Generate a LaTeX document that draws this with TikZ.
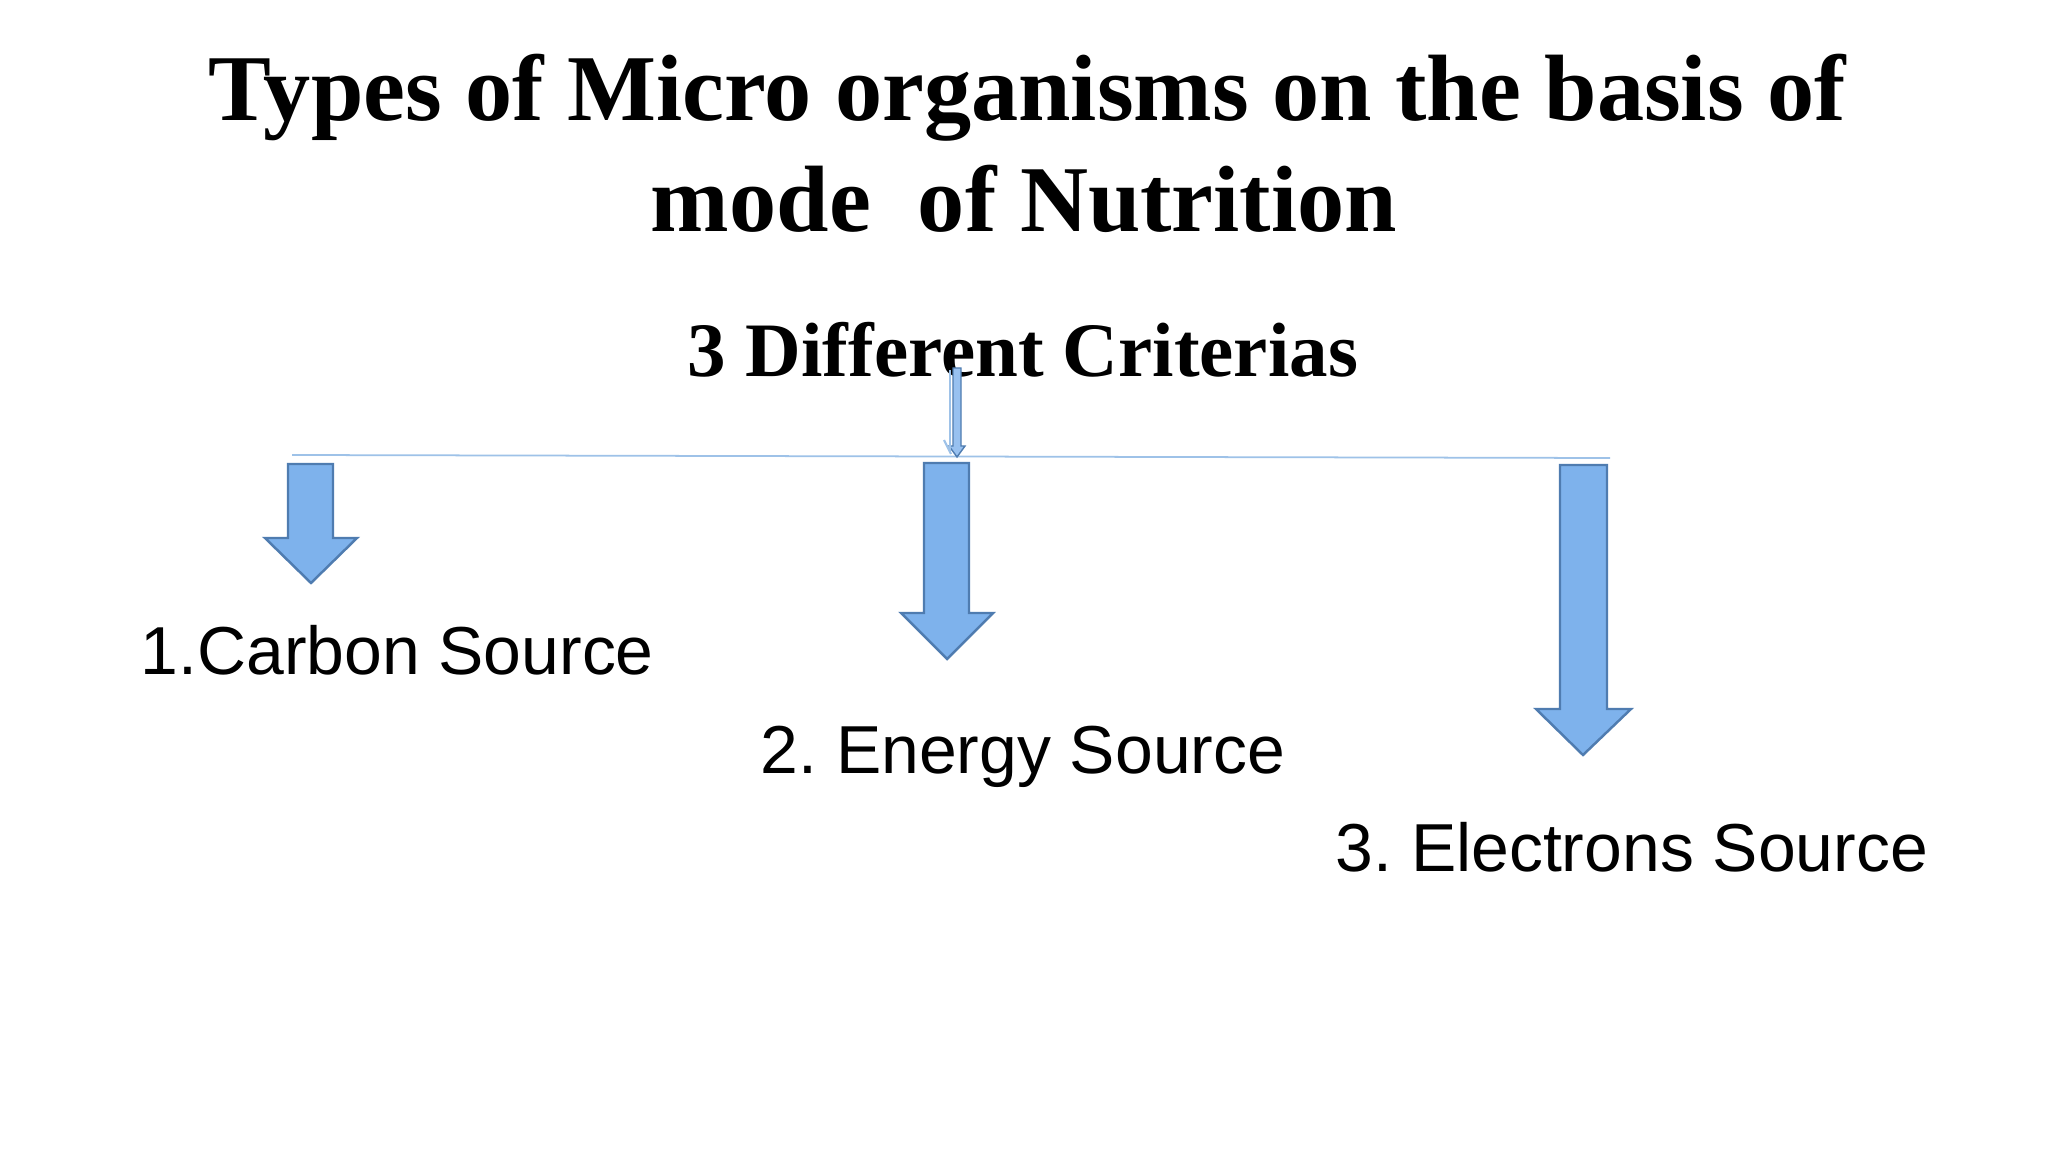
\documentclass[tikz,border=0pt]{standalone}
\usepackage{fontspec}
\setmainfont{Liberation Serif}
\setsansfont{Liberation Sans}
\frenchspacing
\begin{document}
\begin{tikzpicture}[x=0.01cm,y=-0.01cm,
  titletext/.style={font=\bfseries\fontsize{26.8}{30}\selectfont, anchor=base, inner sep=0},
  subtext/.style={font=\bfseries\fontsize{21.9}{26}\selectfont, anchor=base, inner sep=0},
  labeltext/.style={font=\sffamily\fontsize{19.3}{23}\selectfont, anchor=base west, inner sep=0},
  blockarrow/.style={fill=arrowfill, draw=arrowedge, line width=0.7pt, line join=miter},
  thinline/.style={draw=lineblue, line width=0.5pt}]
\definecolor{arrowfill}{HTML}{7EB2EC}
\definecolor{arrowedge}{HTML}{4F7CB0}
\definecolor{lineblue}{HTML}{9EC2E8}
\useasboundingbox[fill=white] (0,0) rectangle (2048,1152);

\node[titletext] (t1) at (1027,121) {Types of Micro organisms on the basis of};
\node[titletext] (t2) at (1024,232) {mode\ \ of Nutrition};
\node[subtext] (sub) at (1023,377) {3 Different Criterias};

% horizontal line
\coordinate (hl) at (292,455);
\coordinate (hr) at (1610,458);
\draw[thinline] (hl) -- (hr);

% small arrow from subtitle
\draw[blockarrow, fill=arrowfill!80, line width=0.4pt] (953,368) -- (961,368) -- (961,446) -- (965,446) -- (957,457) -- (949,446) -- (953,446) -- cycle;
\draw[thinline, line width=0.6pt] (950,370) -- (950,452);
\draw[thinline, line width=0.6pt] (944,440) -- (951,454);

% arrow 1
\draw[blockarrow] (288,464) -- (333,464) -- (333,538) -- (357,538) -- (311,583) -- (265,538) -- (288,538) -- cycle;
% arrow 2
\draw[blockarrow] (924,463) -- (969,463) -- (969,613) -- (993,613) -- (947,659) -- (901,613) -- (924,613) -- cycle;
% arrow 3
\draw[blockarrow] (1560,465) -- (1607,465) -- (1607,709) -- (1631,709) -- (1583,755) -- (1536,709) -- (1560,709) -- cycle;

\node[labeltext] (l1) at (140,675) {1.Carbon Source};
\node[labeltext] (l2) at (760,773) {2. Energy Source};
\node[labeltext] (l3) at (1335,871) {3. Electrons Source};
\end{tikzpicture}
\end{document}
